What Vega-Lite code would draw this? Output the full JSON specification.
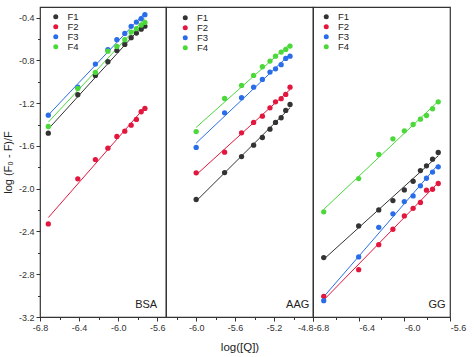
{
  "$schema": "https://vega.github.io/schema/vega-lite/v6.json",
  "background": "white",
  "padding": {"left": 1, "top": 6, "right": 5, "bottom": 0},
  "bounds": "flush",
  "spacing": 0,
  "config": {
    "font": "Liberation Sans",
    "view": {"stroke": "#333333", "strokeWidth": 1.2},
    "concat": {"spacing": 0},
    "axis": {
      "domain": false, "grid": false, "labelFontSize": 9, "labelColor": "#333333",
      "tickColor": "#333333", "labelFont": "Liberation Sans", "titleFont": "Liberation Sans",
      "titleFontWeight": "normal", "titleColor": "#222222", "labelPadding": 2,
      "labelFlush": false, "labelOverlap": false, "tickCount": 40,
      "labelExpr": "(round(datum.value*10) % 4 == 0) ? replace(format(datum.value, '.1f'), '−', '-') : ''",
      "tickSize": {"condition": {"test": "round(datum.value*10) % 4 == 0", "value": 4}, "value": 2.5}
    },
    "legend": {
      "title": null, "orient": "none", "padding": 0, "labelFontSize": 9.5, "symbolSize": 25,
      "symbolType": "circle", "rowPadding": -1, "labelOffset": 7, "labelColor": "#222222",
      "symbolStrokeWidth": 0, "labelFont": "Liberation Sans"
    }
  },
  "resolve": {"legend": {"color": "independent"}, "scale": {"x": "independent"}},
  "datasets": {
    "pts": [
      {"p": "BSA", "s": "F1", "x": -6.715, "y": -1.48},
      {"p": "BSA", "s": "F1", "x": -6.413, "y": -1.121},
      {"p": "BSA", "s": "F1", "x": -6.233, "y": -0.94},
      {"p": "BSA", "s": "F1", "x": -6.105, "y": -0.812},
      {"p": "BSA", "s": "F1", "x": -6.013, "y": -0.706},
      {"p": "BSA", "s": "F1", "x": -5.932, "y": -0.65},
      {"p": "BSA", "s": "F1", "x": -5.867, "y": -0.587},
      {"p": "BSA", "s": "F1", "x": -5.813, "y": -0.544},
      {"p": "BSA", "s": "F1", "x": -5.764, "y": -0.507},
      {"p": "BSA", "s": "F1", "x": -5.726, "y": -0.479},
      {"p": "BSA", "s": "F2", "x": -6.715, "y": -2.329},
      {"p": "BSA", "s": "F2", "x": -6.413, "y": -1.907},
      {"p": "BSA", "s": "F2", "x": -6.233, "y": -1.727},
      {"p": "BSA", "s": "F2", "x": -6.105, "y": -1.621},
      {"p": "BSA", "s": "F2", "x": -6.013, "y": -1.511},
      {"p": "BSA", "s": "F2", "x": -5.932, "y": -1.462},
      {"p": "BSA", "s": "F2", "x": -5.867, "y": -1.406},
      {"p": "BSA", "s": "F2", "x": -5.813, "y": -1.352},
      {"p": "BSA", "s": "F2", "x": -5.764, "y": -1.28},
      {"p": "BSA", "s": "F2", "x": -5.726, "y": -1.249},
      {"p": "BSA", "s": "F3", "x": -6.715, "y": -1.312},
      {"p": "BSA", "s": "F3", "x": -6.413, "y": -1.05},
      {"p": "BSA", "s": "F3", "x": -6.233, "y": -0.834},
      {"p": "BSA", "s": "F3", "x": -6.105, "y": -0.7},
      {"p": "BSA", "s": "F3", "x": -6.013, "y": -0.606},
      {"p": "BSA", "s": "F3", "x": -5.932, "y": -0.547},
      {"p": "BSA", "s": "F3", "x": -5.867, "y": -0.481},
      {"p": "BSA", "s": "F3", "x": -5.813, "y": -0.441},
      {"p": "BSA", "s": "F3", "x": -5.764, "y": -0.409},
      {"p": "BSA", "s": "F3", "x": -5.726, "y": -0.372},
      {"p": "BSA", "s": "F4", "x": -6.715, "y": -1.418},
      {"p": "BSA", "s": "F4", "x": -6.413, "y": -1.062},
      {"p": "BSA", "s": "F4", "x": -6.233, "y": -0.912},
      {"p": "BSA", "s": "F4", "x": -6.105, "y": -0.713},
      {"p": "BSA", "s": "F4", "x": -6.013, "y": -0.669},
      {"p": "BSA", "s": "F4", "x": -5.932, "y": -0.606},
      {"p": "BSA", "s": "F4", "x": -5.867, "y": -0.535},
      {"p": "BSA", "s": "F4", "x": -5.813, "y": -0.503},
      {"p": "BSA", "s": "F4", "x": -5.764, "y": -0.469},
      {"p": "BSA", "s": "F4", "x": -5.726, "y": -0.444},
      {"p": "AAG", "s": "F1", "x": -6.0, "y": -2.101},
      {"p": "AAG", "s": "F1", "x": -5.708, "y": -1.849},
      {"p": "AAG", "s": "F1", "x": -5.534, "y": -1.699},
      {"p": "AAG", "s": "F1", "x": -5.41, "y": -1.593},
      {"p": "AAG", "s": "F1", "x": -5.32, "y": -1.521},
      {"p": "AAG", "s": "F1", "x": -5.242, "y": -1.443},
      {"p": "AAG", "s": "F1", "x": -5.185, "y": -1.38},
      {"p": "AAG", "s": "F1", "x": -5.127, "y": -1.336},
      {"p": "AAG", "s": "F1", "x": -5.08, "y": -1.268},
      {"p": "AAG", "s": "F1", "x": -5.036, "y": -1.212},
      {"p": "AAG", "s": "F2", "x": -6.0, "y": -1.851},
      {"p": "AAG", "s": "F2", "x": -5.708, "y": -1.658},
      {"p": "AAG", "s": "F2", "x": -5.534, "y": -1.477},
      {"p": "AAG", "s": "F2", "x": -5.41, "y": -1.38},
      {"p": "AAG", "s": "F2", "x": -5.32, "y": -1.321},
      {"p": "AAG", "s": "F2", "x": -5.242, "y": -1.243},
      {"p": "AAG", "s": "F2", "x": -5.185, "y": -1.187},
      {"p": "AAG", "s": "F2", "x": -5.127, "y": -1.158},
      {"p": "AAG", "s": "F2", "x": -5.08, "y": -1.118},
      {"p": "AAG", "s": "F2", "x": -5.036, "y": -1.05},
      {"p": "AAG", "s": "F3", "x": -6.0, "y": -1.614},
      {"p": "AAG", "s": "F3", "x": -5.708, "y": -1.29},
      {"p": "AAG", "s": "F3", "x": -5.534, "y": -1.149},
      {"p": "AAG", "s": "F3", "x": -5.41, "y": -1.05},
      {"p": "AAG", "s": "F3", "x": -5.32, "y": -0.978},
      {"p": "AAG", "s": "F3", "x": -5.242, "y": -0.909},
      {"p": "AAG", "s": "F3", "x": -5.185, "y": -0.878},
      {"p": "AAG", "s": "F3", "x": -5.127, "y": -0.84},
      {"p": "AAG", "s": "F3", "x": -5.08, "y": -0.781},
      {"p": "AAG", "s": "F3", "x": -5.036, "y": -0.76},
      {"p": "AAG", "s": "F4", "x": -6.0, "y": -1.465},
      {"p": "AAG", "s": "F4", "x": -5.708, "y": -1.156},
      {"p": "AAG", "s": "F4", "x": -5.534, "y": -1.034},
      {"p": "AAG", "s": "F4", "x": -5.41, "y": -0.94},
      {"p": "AAG", "s": "F4", "x": -5.32, "y": -0.859},
      {"p": "AAG", "s": "F4", "x": -5.242, "y": -0.806},
      {"p": "AAG", "s": "F4", "x": -5.185, "y": -0.76},
      {"p": "AAG", "s": "F4", "x": -5.127, "y": -0.722},
      {"p": "AAG", "s": "F4", "x": -5.08, "y": -0.697},
      {"p": "AAG", "s": "F4", "x": -5.036, "y": -0.666},
      {"p": "GG", "s": "F1", "x": -6.706, "y": -2.644},
      {"p": "GG", "s": "F1", "x": -6.4, "y": -2.348},
      {"p": "GG", "s": "F1", "x": -6.224, "y": -2.198},
      {"p": "GG", "s": "F1", "x": -6.1, "y": -2.111},
      {"p": "GG", "s": "F1", "x": -6.0, "y": -2.011},
      {"p": "GG", "s": "F1", "x": -5.923, "y": -1.93},
      {"p": "GG", "s": "F1", "x": -5.859, "y": -1.83},
      {"p": "GG", "s": "F1", "x": -5.806, "y": -1.786},
      {"p": "GG", "s": "F1", "x": -5.753, "y": -1.724},
      {"p": "GG", "s": "F1", "x": -5.703, "y": -1.661},
      {"p": "GG", "s": "F2", "x": -6.706, "y": -3.007},
      {"p": "GG", "s": "F2", "x": -6.4, "y": -2.757},
      {"p": "GG", "s": "F2", "x": -6.224, "y": -2.523},
      {"p": "GG", "s": "F2", "x": -6.1, "y": -2.379},
      {"p": "GG", "s": "F2", "x": -6.0, "y": -2.254},
      {"p": "GG", "s": "F2", "x": -5.923, "y": -2.183},
      {"p": "GG", "s": "F2", "x": -5.859, "y": -2.129},
      {"p": "GG", "s": "F2", "x": -5.806, "y": -2.014},
      {"p": "GG", "s": "F2", "x": -5.753, "y": -2.005},
      {"p": "GG", "s": "F2", "x": -5.703, "y": -1.951},
      {"p": "GG", "s": "F3", "x": -6.706, "y": -3.047},
      {"p": "GG", "s": "F3", "x": -6.4, "y": -2.638},
      {"p": "GG", "s": "F3", "x": -6.224, "y": -2.361},
      {"p": "GG", "s": "F3", "x": -6.1, "y": -2.235},
      {"p": "GG", "s": "F3", "x": -6.0, "y": -2.12},
      {"p": "GG", "s": "F3", "x": -5.923, "y": -2.067},
      {"p": "GG", "s": "F3", "x": -5.859, "y": -1.973},
      {"p": "GG", "s": "F3", "x": -5.806, "y": -1.902},
      {"p": "GG", "s": "F3", "x": -5.753, "y": -1.844},
      {"p": "GG", "s": "F3", "x": -5.703, "y": -1.795},
      {"p": "GG", "s": "F4", "x": -6.706, "y": -2.216},
      {"p": "GG", "s": "F4", "x": -6.4, "y": -1.905},
      {"p": "GG", "s": "F4", "x": -6.224, "y": -1.68},
      {"p": "GG", "s": "F4", "x": -6.1, "y": -1.533},
      {"p": "GG", "s": "F4", "x": -6.0, "y": -1.458},
      {"p": "GG", "s": "F4", "x": -5.923, "y": -1.399},
      {"p": "GG", "s": "F4", "x": -5.859, "y": -1.349},
      {"p": "GG", "s": "F4", "x": -5.806, "y": -1.315},
      {"p": "GG", "s": "F4", "x": -5.753, "y": -1.252},
      {"p": "GG", "s": "F4", "x": -5.703, "y": -1.187}
    ]
  },
  "hconcat": [
    {
      "width": 126, "height": 310,
      "data": {"name": "pts"},
      "transform": [{"filter": "datum.p == 'BSA'"}],
      "layer": [
        {
          "transform": [{"regression": "y", "on": "x", "groupby": ["s"]}],
          "mark": {"type": "line", "strokeWidth": 1},
          "encoding": {
            "x": {"field": "x", "type": "quantitative", "scale": {"domain": [-6.8, -5.51], "nice": false, "zero": false},
                  "axis": {"title": null, "labelOverlap": false, "tickCount": 40, "values": [-6.8, -6.6, -6.4, -6.2, -6.0, -5.8, -5.6]}},
            "y": {"field": "y", "type": "quantitative", "scale": {"domain": [-3.2, -0.3], "nice": false, "zero": false},
                  "axis": {"title": "log (F₀ - F)/F", "titleFontSize": 11, "titlePadding": 5, "labelOverlap": false, "tickCount": 40,
                           "values": [-3.2, -3.0, -2.8, -2.6, -2.4, -2.2, -2.0, -1.8, -1.6, -1.4, -1.2, -1.0, -0.8, -0.6, -0.4]}},
            "stroke": {"field": "s", "type": "nominal", "scale": {"domain": ["F1", "F2", "F3", "F4"], "range": ["#333333", "#e3173e", "#2a6de8", "#4bd93a"]}, "legend": null}
          }
        },
        {
          "mark": {"type": "point", "filled": true, "size": 28, "opacity": 1},
          "encoding": {
            "x": {"field": "x", "type": "quantitative"},
            "y": {"field": "y", "type": "quantitative"},
            "color": {"field": "s", "type": "nominal", "scale": {"domain": ["F1", "F2", "F3", "F4"], "range": ["#333333", "#e3173e", "#2a6de8", "#4bd93a"]},
                      "legend": {"legendX": 11, "legendY": 5}}
          }
        },
        {
          "data": {"values": [{"t": "BSA"}]},
          "mark": {"type": "text", "align": "right", "baseline": "alphabetic", "fontSize": 11, "color": "#222222"},
          "encoding": {"x": {"datum": -5.6}, "y": {"datum": -3.12}, "text": {"field": "t"}}
        }
      ]
    },
    {
      "width": 147, "height": 310,
      "data": {"name": "pts"},
      "transform": [{"filter": "datum.p == 'AAG'"}],
      "layer": [
        {
          "transform": [{"regression": "y", "on": "x", "groupby": ["s"]}],
          "mark": {"type": "line", "strokeWidth": 1},
          "encoding": {
            "x": {"field": "x", "type": "quantitative", "scale": {"domain": [-6.31, -4.8], "nice": false, "zero": false},
                  "axis": {"title": "log([Q])", "titleFontSize": 11.5, "titlePadding": 9, "labelOverlap": false, "tickCount": 40,
                           "labelAlign": {"condition": {"test": "datum.value > -4.81", "value": "right"}, "value": "center"},
                           "values": [-6.2, -6.0, -5.8, -5.6, -5.4, -5.2, -5.0, -4.8]}},
            "y": {"field": "y", "type": "quantitative", "scale": {"domain": [-3.2, -0.3], "nice": false, "zero": false}, "axis": null},
            "stroke": {"field": "s", "type": "nominal", "scale": {"domain": ["F1", "F2", "F3", "F4"], "range": ["#333333", "#e3173e", "#2a6de8", "#4bd93a"]}, "legend": null}
          }
        },
        {
          "mark": {"type": "point", "filled": true, "size": 28, "opacity": 1},
          "encoding": {
            "x": {"field": "x", "type": "quantitative"},
            "y": {"field": "y", "type": "quantitative"},
            "color": {"field": "s", "type": "nominal", "scale": {"domain": ["F1", "F2", "F3", "F4"], "range": ["#333333", "#e3173e", "#2a6de8", "#4bd93a"]},
                      "legend": {"legendX": 14.5, "legendY": 6}}
          }
        },
        {
          "data": {"values": [{"t": "AAG"}]},
          "mark": {"type": "text", "align": "right", "baseline": "alphabetic", "fontSize": 11, "color": "#222222"},
          "encoding": {"x": {"datum": -4.838}, "y": {"datum": -3.12}, "text": {"field": "t"}}
        }
      ]
    },
    {
      "width": 137, "height": 310,
      "data": {"name": "pts"},
      "transform": [{"filter": "datum.p == 'GG'"}],
      "layer": [
        {
          "transform": [{"regression": "y", "on": "x", "groupby": ["s"]}],
          "mark": {"type": "line", "strokeWidth": 1},
          "encoding": {
            "x": {"field": "x", "type": "quantitative", "scale": {"domain": [-6.8, -5.6], "nice": false, "zero": false},
                  "axis": {"title": null, "labelOffset": 8, "labelOverlap": false, "tickCount": 40, "values": [-6.8, -6.6, -6.4, -6.2, -6.0, -5.8, -5.6]}},
            "y": {"field": "y", "type": "quantitative", "scale": {"domain": [-3.2, -0.3], "nice": false, "zero": false}, "axis": null},
            "stroke": {"field": "s", "type": "nominal", "scale": {"domain": ["F1", "F2", "F3", "F4"], "range": ["#333333", "#e3173e", "#2a6de8", "#4bd93a"]}, "legend": null}
          }
        },
        {
          "mark": {"type": "point", "filled": true, "size": 28, "opacity": 1},
          "encoding": {
            "x": {"field": "x", "type": "quantitative"},
            "y": {"field": "y", "type": "quantitative"},
            "color": {"field": "s", "type": "nominal", "scale": {"domain": ["F1", "F2", "F3", "F4"], "range": ["#333333", "#e3173e", "#2a6de8", "#4bd93a"]},
                      "legend": {"legendX": 8.5, "legendY": 5}}
          }
        },
        {
          "data": {"values": [{"t": "GG"}]},
          "mark": {"type": "text", "align": "right", "baseline": "alphabetic", "fontSize": 11, "color": "#222222"},
          "encoding": {"x": {"datum": -5.638}, "y": {"datum": -3.12}, "text": {"field": "t"}}
        }
      ]
    }
  ]
}
